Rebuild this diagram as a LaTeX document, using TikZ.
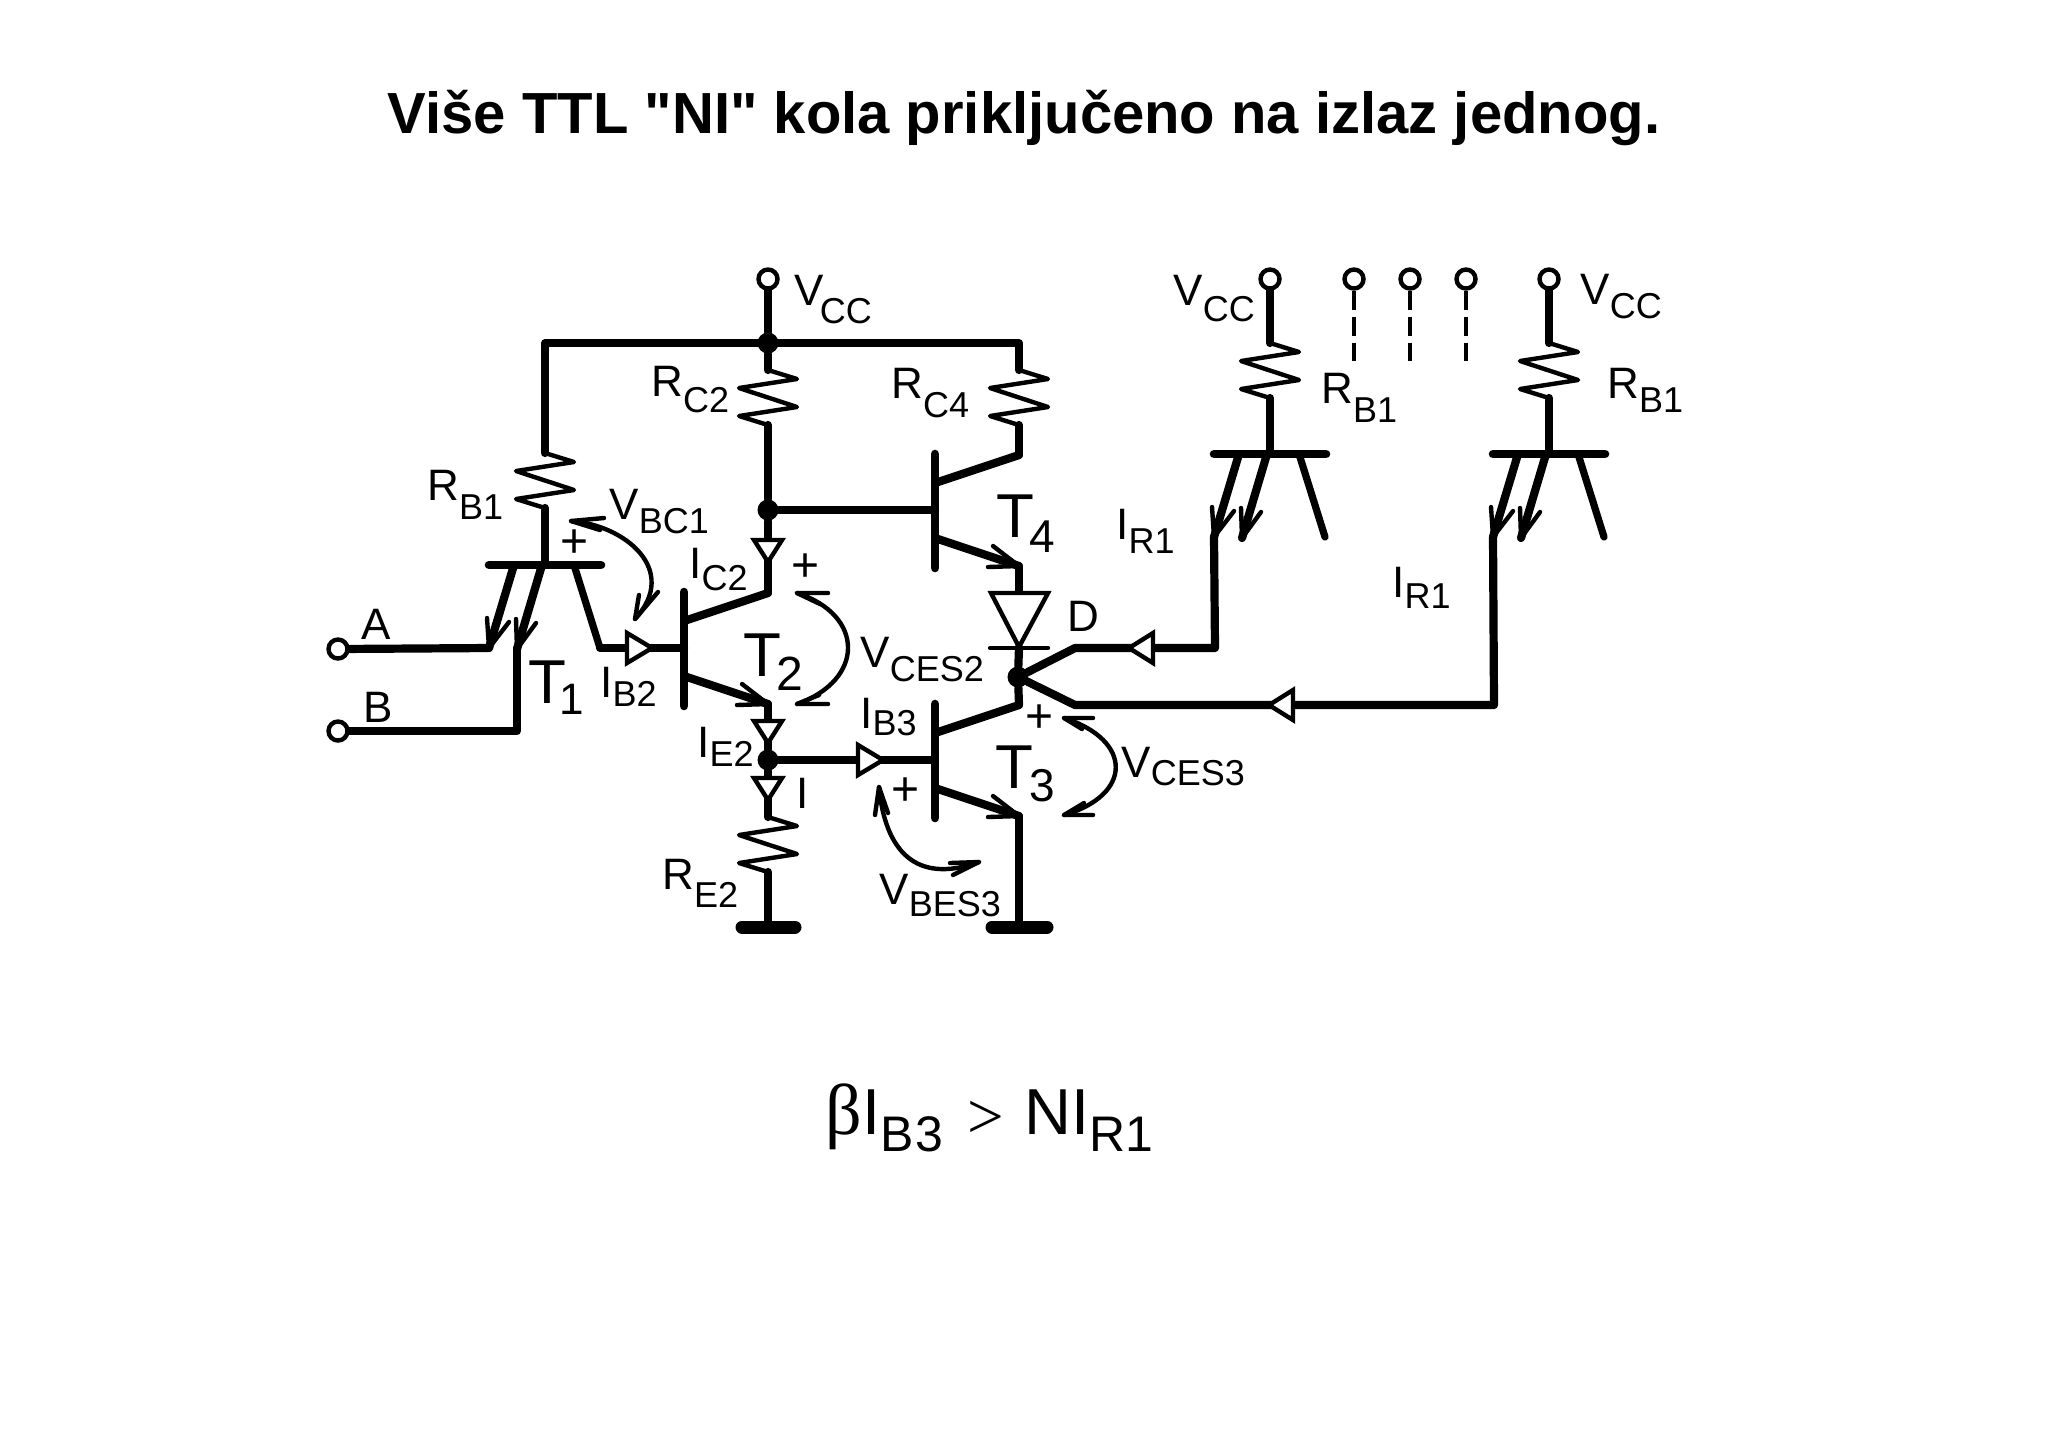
\documentclass[tikz,border=0pt]{standalone}
\usepackage{fontspec}
\setmainfont{Liberation Sans}
\newfontfamily\titlefont{Liberation Sans}
\newfontfamily\serifsym{Liberation Serif}
\newcommand\lbl[3]{#1\raisebox{-#3pt}{\fontsize{18}{20}\selectfont #2}}
\newcommand\vlbl[3]{#1\kern-2pt\raisebox{-#3pt}{\fontsize{18}{20}\selectfont #2}}
\newcommand\tlbl[5]{#1\kern#5pt\raisebox{-#3pt}{\fontsize{#4}{#4}\selectfont #2}}
\tikzset{
  wire/.style={line width=4.1pt,line cap=round,line join=round,draw=black},
  thinw/.style={line width=2.2pt,line cap=round,line join=round,draw=black},
  barw/.style={line width=4.3pt,line cap=round,draw=black},
  gndw/.style={line width=6.5pt,line cap=round,draw=black},
  lab/.style={anchor=base west,inner sep=0pt,font=\fontsize{22}{26}\selectfont},
  tlab/.style={anchor=base west,inner sep=0pt,font=\fontsize{31}{36}\selectfont},
  feq/.style={anchor=base west,inner sep=0pt,font=\fontsize{32.5}{38}\selectfont},
  plusl/.style={anchor=center,inner sep=0pt,font=\fontsize{24}{26}\selectfont},
  dot/.style={circle,fill=black,draw=none,minimum size=10.5pt,inner sep=0pt},
  term/.style={circle,fill=white,draw=black,line width=2.2pt,minimum size=9.5pt,inner sep=0pt},
  tri/.style={draw=black,fill=white,line width=2.2pt,line join=miter},
  res/.pic={
    \coordinate (-a) at (0,0);
    \coordinate (-b) at (0,55);
    \draw[thinw] (0,0)--(29,9)--(-29,18)--(29,37)--(-29,46)--(0,55);
  },
  npn/.pic={
    \coordinate (-b) at (0,0);
    \coordinate (-c) at (84,-55);
    \coordinate (-e) at (84,56);
    \draw[barw] (0,-56)--(0,58);
    \draw[wire] (3,-28)--(84,-55);
    \draw[wire] (3,29)--(84,56);
    \draw[thinw] (58,36)--(84,56)--(53,57);
  },
  mte/.pic={
    \coordinate (-top) at (0,0);
    \coordinate (-l) at (-56,83);
    \coordinate (-m) at (-28,83);
    \coordinate (-r) at (55,83);
    \draw[barw] (-56,0)--(56,0);
    \draw[wire] (-31,0)--(-56,83);
    \draw[wire] (-3,0)--(-28,84);
    \draw[wire,line width=3.6pt] (29,0)--(55,83);
    \draw[thinw] (-58,53)--(-56,83)--(-36,57);
    \draw[thinw] (-29,54)--(-28,84)--(-9,58);
  },
  trir/.pic={\draw[tri] (-12,-15)--(13,0)--(-12,15)--cycle;},
  tril/.pic={\draw[tri] (12,-15)--(-12,0)--(12,15)--cycle;},
  trid/.pic={\draw[tri] (-14,-11)--(14,-11)--(0,11)--cycle;}
}
\begin{document}
\begin{tikzpicture}[x=0.5pt,y=-0.5pt]
\useasboundingbox (0,0) rectangle (2048,1448);
% title
\node[anchor=base,inner sep=0pt,font=\fontsize{29}{34}\selectfont\titlefont\bfseries] (title) at (1024,133) {Više TTL "NI" kola priključeno na izlaz jednog.};
% terminals and junctions
\node[term] (vccm) at (768,279) {};
\node[dot] (jrail) at (768,343) {};
\node[dot] (jb4) at (768,510) {};
\node[dot] (je2) at (768,760) {};
\node[dot] (jout) at (1018,677) {};
\node[term] (ta) at (338,649) {};
\node[term] (tb) at (338,731) {};
\node[term] (v1) at (1270,279) {};
\node[term] (d1) at (1354,279) {};
\node[term] (d2) at (1410,279) {};
\node[term] (d3) at (1466,279) {};
\node[term] (v2) at (1549,279) {};
% components
\pic (rc2) at (768,370) {res};
\pic (rb1) at (545,453) {res};
\pic (rc4) at (1019,370) {res};
\pic (re2) at (768,817) {res};
\pic (rb2) at (1270,343) {res};
\pic (rb3) at (1549,343) {res};
\pic (t2) at (684,648) {npn};
\pic (t4) at (935,510) {npn};
\pic (t3) at (935,760) {npn};
\pic (t1) at (545,565) {mte};
\pic (u1) at (1270,454) {mte};
\pic (u2) at (1549,454) {mte};
\coordinate (railL) at (545,343);
\coordinate (railR) at (1019,343);
\coordinate (bend1) at (1075,648);
\coordinate (bend2) at (1075,705);
\coordinate (c1) at (1215,648);
\coordinate (c2) at (1494,705);
\coordinate (g1) at (768,927);
\coordinate (g2) at (1019,927);
\coordinate (dtop) at (1019,593);
\coordinate (dtip) at (1019,647);
\coordinate (tbend) at (517,731);
\coordinate (ib2) at (600,648);
% wires
\draw[wire] (vccm)--(jrail);
\draw[wire] (rb1-a)--(railL)--(railR)--(rc4-a);
\draw[wire] (jrail)--(rc2-a);
\draw[wire] (rc2-b)--(jb4)--(t2-c);
\draw[wire] (jb4)--(t4-b);
\draw[wire] (rb1-b)--(t1-top);
\draw[wire] (ta)--(t1-l);
\draw[wire] (tb)--(tbend)--(t1-m);
\draw[wire] (t1-r)--(ib2)--(t2-b);
\draw[wire] (t2-e)--(je2)--(re2-a);
\draw[wire] (je2)--(t3-b);
\draw[wire] (re2-b)--(g1);
\draw[wire] (rc4-b)--(t4-c);
\draw[wire] (t4-e)--(dtop);
\draw[wire] (dtip)--(jout)--(t3-c);
\draw[wire] (jout)--(bend1)--(c1)--(u1-l);
\draw[wire] (jout)--(bend2)--(c2)--(u2-l);
\draw[wire] (t3-e)--(g2);
\draw[gndw] (742,927)--(795,927);
\draw[gndw] (992,927)--(1047,927);
\draw[wire] (v1)--(rb2-a);
\draw[wire] (rb2-b)--(u1-top);
\draw[wire] (v2)--(rb3-a);
\draw[wire] (rb3-b)--(u2-top);
\foreach \n/\x in {d1/1354,d2/1410,d3/1466}
  \draw[line width=2.2pt,dash pattern=on 9.5pt off 3.5pt] (\n) -- (\x,361);
% diode
\draw[tri,fill=white] (991,593)--(1048,593)--(1019,647)--cycle;
\draw[thinw] (990,648)--(1048,648);
% current markers
\pic at (768,551) {trid};
\pic at (768,732) {trid};
\pic at (768,789) {trid};
\pic at (639,648) {trir};
\pic at (870,760) {trir};
\pic at (1141,648) {tril};
\pic at (1281,705) {tril};
% voltage arrows
\draw[thinw] (571,521) .. controls (625,525) and (680,570) .. (635,619);
\draw[thinw] (604,518)--(571,521)--(600,530);
\draw[thinw] (639,595)--(635,619)--(658,592);
\draw[thinw] (797,593) .. controls (865,615) and (865,680) .. (797,704);
\draw[thinw] (828,593)--(797,593)--(820,604);
\draw[thinw] (828,704)--(797,704)--(819,695);
\draw[thinw] (1064,718) .. controls (1133,740) and (1133,795) .. (1064,815);
\draw[thinw] (1093,718)--(1064,718)--(1082,729);
\draw[thinw] (1093,815)--(1064,815)--(1084,803);
\draw[thinw] (879,787) .. controls (885,850) and (915,885) .. (979,862);
\draw[thinw] (875,815)--(879,787)--(888,813);
\draw[thinw] (950,863)--(979,862)--(953,875);
% plus signs
\node[plusl] (p1) at (575,544) {+};
\node[plusl] (p2) at (806,568) {+};
\node[plusl] (p3) at (1039,719) {+};
\node[plusl] (p4) at (905,792) {+};
% labels
\node[lab] (lv1) at (794,305) {\vlbl{V}{CC}{9}};
\node[lab] (lrc2) at (651,396) {\lbl{R}{C2}{8}};
\node[lab] (lrb1) at (427,500) {\lbl{R}{B1}{9.5}};
\node[lab] (lvbc) at (609,519) {\lbl{V}{BC1}{7}};
\node[lab] (lic2) at (689,578) {\lbl{I}{C2}{6}};
\node[lab] (la) at (361,639) {A};
\node[lab] (lb) at (363,722) {B};
\node[lab] (lib2) at (600,697) {\lbl{I}{B2}{4.5}};
\node[lab] (lrc4) at (891,398) {\lbl{R}{C4}{9.5}};
\node[lab] (lir1) at (1116,539) {\lbl{I}{R1}{7}};
\node[lab] (ld) at (1067,631) {D};
\node[lab] (lvc2) at (860,667) {\lbl{V}{CES2}{7}};
\node[lab] (lib3) at (860,728) {\lbl{I}{B3}{3.5}};
\node[lab] (lie2) at (697,757) {\lbl{I}{E2}{4.5}};
\node[lab] (li) at (796,808) {I};
\node[lab] (lre2) at (662,889) {\lbl{R}{E2}{9}};
\node[lab] (lvb3) at (879,904) {\lbl{V}{BES3}{6}};
\node[lab] (lvc3) at (1121,777) {\lbl{V}{CES3}{4}};
\node[lab] (lv2) at (1173,305) {\lbl{V}{CC}{8}};
\node[lab] (lrb2) at (1321,403) {\lbl{R}{B1}{9.5}};
\node[lab] (lv3) at (1580,304) {\lbl{V}{CC}{7}};
\node[lab] (lrb3) at (1607,398) {\lbl{R}{B1}{7}};
\node[lab] (lir2) at (1392,597) {\lbl{I}{R1}{5.5}};
\node[tlab] (lt1) at (528,703) {\tlbl{T}{1}{5.5}{22}{-3.5}};
\node[tlab] (lt2) at (743,676) {\tlbl{T}{2}{7}{24}{-2.5}};
\node[tlab] (lt3) at (995,788) {\tlbl{T}{3}{6.5}{23}{-2}};
\node[tlab] (lt4) at (996,537) {\tlbl{T}{4}{7.5}{23}{-2.5}};
% formula
\node[feq,font=\fontsize{36}{40}\selectfont\serifsym] (fb) at (825,1134) {β};
\node[feq] (f1) at (862,1134) {\tlbl{I}{B\kern1pt3}{8.5}{25}{0}};
\node[feq,font=\fontsize{32.5}{38}\selectfont\serifsym] (fgt) at (967,1138) {>};
\node[feq] (f2) at (1024,1134) {\tlbl{NI}{R1}{8.5}{25}{0}};
\end{tikzpicture}
\end{document}
